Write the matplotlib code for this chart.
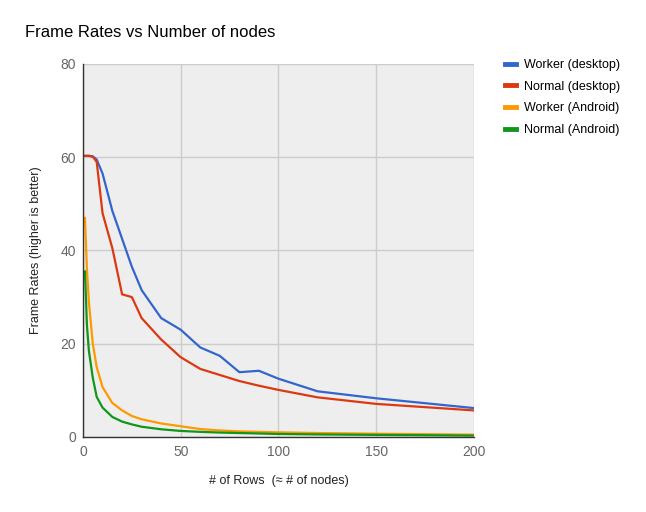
import matplotlib.pyplot as plt

plt.rcParams["font.family"] = ["Liberation Sans", "DejaVu Sans"]

# number of rows (x) and frame rates per series
rows = [1, 2, 3, 5, 7, 10, 15, 20, 25, 30, 40, 50, 60, 70, 80, 90, 100, 120, 150, 200]
worker_desktop = [60.3, 60.3, 60.3, 60.2, 59.5, 56.5, 48.5, 42.5, 36.5, 31.5, 25.5, 23.0,
                  19.2, 17.4, 13.9, 14.2, 12.5, 9.8, 8.3, 6.2]
normal_desktop = [60.3, 60.3, 60.3, 60.1, 59.0, 48.0, 40.5, 30.6, 30.0, 25.5, 20.9, 17.1,
                  14.6, 13.3, 12.0, 11.0, 10.1, 8.5, 7.1, 5.7]
worker_android = [47.0, 36.0, 29.0, 20.0, 15.0, 10.7, 7.3, 5.7, 4.5, 3.8, 2.9, 2.3,
                  1.7, 1.4, 1.2, 1.1, 1.0, 0.85, 0.7, 0.5]
normal_android = [35.5, 24.0, 18.5, 12.7, 8.6, 6.3, 4.3, 3.3, 2.7, 2.2, 1.65, 1.3,
                  1.1, 0.95, 0.85, 0.75, 0.65, 0.55, 0.45, 0.3]

series = [
    ("Worker (desktop)", worker_desktop, "#3366cc"),
    ("Normal (desktop)", normal_desktop, "#dc3912"),
    ("Worker (Android)", worker_android, "#ff9900"),
    ("Normal (Android)", normal_android, "#109618"),
]

x_ticks = [0, 50, 100, 150, 200]
y_ticks = [0, 20, 40, 60, 80]

fig = plt.figure(figsize=(6.46, 5.12), dpi=100)
ax = fig.add_axes([0.1285, 0.1465, 0.6052, 0.7285])
ax.set_facecolor("#eeeeee")

for label, values, color in series:
    ax.plot(rows, values, color=color, linewidth=1.6, label=label, solid_joinstyle="round")

ax.set_xlim(0, 200)
ax.set_ylim(0, 80)
ax.set_xticks(x_ticks)
ax.set_yticks(y_ticks)
ax.grid(True, color="#cccccc", linewidth=1)
ax.set_axisbelow(True)
ax.tick_params(length=0, labelsize=10, labelcolor="#666666")
ax.tick_params(axis="y", pad=5)
ax.tick_params(axis="x", pad=6)

for side in ["top", "right"]:
    ax.spines[side].set_visible(False)
for side in ["left", "bottom"]:
    ax.spines[side].set_color("#333333")
    ax.spines[side].set_linewidth(1)

ax.set_xlabel("# of Rows  (\u2248 # of nodes)", fontsize=9, color="#222222", labelpad=11)
ax.set_ylabel("Frame Rates (higher is better)", fontsize=9, color="#222222", labelpad=13)

fig.text(25 / 646, 1 - 37 / 512, "Frame Rates vs Number of nodes", fontsize=12, color="#000000",
         va="baseline", ha="left")

fig.legend(loc="upper left", bbox_to_anchor=(500 / 646, 1 - 54 / 512), frameon=False,
           fontsize=9, handlelength=0.9, handletextpad=0.6, labelspacing=0.78,
           borderaxespad=0)
for line in fig.legends[0].get_lines():
    line.set_linewidth(3.5)

fig.savefig("out.png", dpi=100)
